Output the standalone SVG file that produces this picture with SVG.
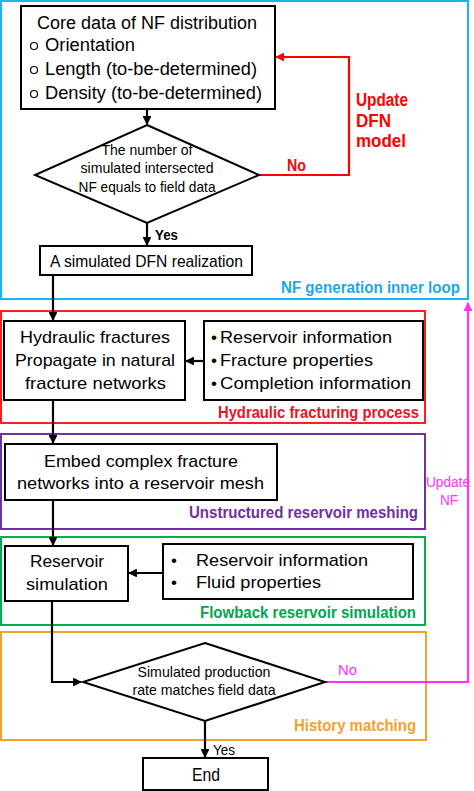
<svg xmlns="http://www.w3.org/2000/svg" width="474" height="791" viewBox="0 0 474 791">
<defs>
<marker id="ah" viewBox="0 0 10 10" refX="9" refY="5" markerWidth="4" markerHeight="4" orient="auto" markerUnits="strokeWidth"><path d="M0,0 L10,5 L0,10 z" fill="#000"/></marker>
<marker id="ahr" viewBox="0 0 10 10" refX="9" refY="5" markerWidth="4" markerHeight="4" orient="auto" markerUnits="strokeWidth"><path d="M0,0 L10,5 L0,10 z" fill="#FF0000"/></marker>
<marker id="ahm" viewBox="0 0 10 10" refX="9" refY="5" markerWidth="4" markerHeight="4" orient="auto" markerUnits="strokeWidth"><path d="M0,0 L10,5 L0,10 z" fill="#FF33FF"/></marker>
</defs>
<style>
text{font-family:"Liberation Sans",Arial,sans-serif;fill:#000;}
.box{fill:#fff;stroke:#000;stroke-width:2;}
.grp{fill:none;stroke-width:2;}
.t{font-size:17px;}
.s{font-size:15px;}
.lab{font-size:16px;font-weight:bold;}
.c{stroke:#000;stroke-width:2.2;fill:none;}
</style>
<rect width="474" height="791" fill="#fff"/>

<g id="group-frames">
<rect id="nf-loop" class="grp" x="1" y="1" width="467" height="298" stroke="#1CB4EC"/>
<rect id="hf-process" class="grp" x="1" y="311" width="424" height="112" stroke="#FF1E1E"/>
<rect id="meshing" class="grp" x="1" y="434" width="424" height="95" stroke="#7030A0"/>
<rect id="flowback" class="grp" x="1" y="537" width="424" height="88" stroke="#00B050"/>
<rect id="history" class="grp" x="1" y="632" width="425" height="108" stroke="#F5A030"/>
<text x="460" y="293" text-anchor="end" class="lab" style="fill:#1CA8E4" textLength="179" lengthAdjust="spacingAndGlyphs">NF generation inner loop</text>
<text x="419" y="418" text-anchor="end" class="lab" style="fill:#E8141C" textLength="201" lengthAdjust="spacingAndGlyphs">Hydraulic fracturing process</text>
<text x="418" y="518" text-anchor="end" class="lab" style="fill:#7030A0" textLength="229" lengthAdjust="spacingAndGlyphs">Unstructured reservoir meshing</text>
<text x="416" y="618" text-anchor="end" class="lab" style="fill:#00A550" textLength="216" lengthAdjust="spacingAndGlyphs">Flowback reservoir simulation</text>
<text x="416" y="731" text-anchor="end" class="lab" style="fill:#F5A030" textLength="122" lengthAdjust="spacingAndGlyphs">History matching</text>
</g>

<g id="connectors">
<line class="c" x1="147" y1="109" x2="147" y2="124" marker-end="url(#ah)"/>
<line class="c" x1="147" y1="223" x2="147" y2="245" marker-end="url(#ah)"/>
<line class="c" x1="53" y1="275" x2="53" y2="320" marker-end="url(#ah)"/>
<line class="c" x1="53" y1="400" x2="53" y2="443" marker-end="url(#ah)"/>
<line class="c" x1="53" y1="500" x2="53" y2="545" marker-end="url(#ah)"/>
<polyline class="c" points="52,601 52,682 81,682" marker-end="url(#ah)"/>
<line class="c" x1="204" y1="361" x2="186" y2="361" marker-end="url(#ah)"/>
<line class="c" x1="163" y1="573" x2="129" y2="573" marker-end="url(#ah)"/>
<line class="c" x1="205" y1="721" x2="205" y2="757" marker-end="url(#ah)"/>
<polyline points="259,175 349,175 349,57 276,57" fill="none" stroke="#FF0000" stroke-width="2.2" marker-end="url(#ahr)"/>
<polyline points="325,682 468,682 468,303" fill="none" stroke="#FF33FF" stroke-width="2.2" marker-end="url(#ahm)"/>
<text x="287" y="171" style="fill:#FF0000;font-size:17px;font-weight:bold" textLength="19" lengthAdjust="spacingAndGlyphs">No</text>
<text x="356" y="106" style="fill:#FF0000;font-size:18px;font-weight:bold" textLength="52" lengthAdjust="spacingAndGlyphs">Update</text>
<text x="356" y="127" style="fill:#FF0000;font-size:18px;font-weight:bold" textLength="35" lengthAdjust="spacingAndGlyphs">DFN</text>
<text x="356" y="147" style="fill:#FF0000;font-size:18px;font-weight:bold" textLength="50" lengthAdjust="spacingAndGlyphs">model</text>
<text x="155" y="240" style="font-size:15px;font-weight:bold" textLength="23" lengthAdjust="spacingAndGlyphs">Yes</text>
<text x="426" y="487" style="fill:#FF33FF;font-size:14px" textLength="44" lengthAdjust="spacingAndGlyphs">Update</text>
<text x="440" y="505" style="fill:#FF33FF;font-size:14px" textLength="18" lengthAdjust="spacingAndGlyphs">NF</text>
<text x="338" y="675" style="fill:#FF33FF;font-size:15px" textLength="19" lengthAdjust="spacingAndGlyphs">No</text>
<text x="213" y="755" style="font-size:15px" textLength="22" lengthAdjust="spacingAndGlyphs">Yes</text>
</g>

<g id="core-data">
<rect class="box" x="21" y="6" width="254" height="103"/>
<text x="37" y="29" class="t" style="font-size:18px" textLength="220" lengthAdjust="spacingAndGlyphs">Core data of NF distribution</text>
<circle cx="34" cy="46" r="3.5" fill="none" stroke="#000" stroke-width="1.2"/>
<circle cx="34" cy="70" r="3.5" fill="none" stroke="#000" stroke-width="1.2"/>
<circle cx="34" cy="94" r="3.5" fill="none" stroke="#000" stroke-width="1.2"/>
<text x="45" y="51" class="t" style="font-size:18px" textLength="90" lengthAdjust="spacingAndGlyphs">Orientation</text>
<text x="45" y="75" class="t" style="font-size:18px" textLength="212" lengthAdjust="spacingAndGlyphs">Length (to-be-determined)</text>
<text x="45" y="99" class="t" style="font-size:18px" textLength="217" lengthAdjust="spacingAndGlyphs">Density (to-be-determined)</text>
</g>

<g id="nf-check">
<polygon class="box" points="147,125 259,175 147,223 35,175"/>
<text x="147" y="155" class="s" text-anchor="middle" textLength="91" lengthAdjust="spacingAndGlyphs">The number of</text>
<text x="147" y="173" class="s" text-anchor="middle" textLength="133" lengthAdjust="spacingAndGlyphs">simulated intersected</text>
<text x="147" y="192" class="s" text-anchor="middle" textLength="137" lengthAdjust="spacingAndGlyphs">NF equals to field data</text>
</g>

<g id="dfn-realization">
<rect class="box" x="40" y="246" width="212" height="29"/>
<text x="50" y="267" class="t" textLength="193" lengthAdjust="spacingAndGlyphs">A simulated DFN realization</text>
</g>

<g id="hydraulic-fractures">
<rect class="box" x="4" y="321" width="181" height="79"/>
<text x="20" y="343" class="t" textLength="150" lengthAdjust="spacingAndGlyphs">Hydraulic fractures</text>
<text x="15" y="366" class="t" textLength="160" lengthAdjust="spacingAndGlyphs">Propagate in natural</text>
<text x="25" y="389" class="t" textLength="141" lengthAdjust="spacingAndGlyphs">fracture networks</text>
</g>

<g id="hf-inputs">
<rect class="box" x="204" y="321" width="219" height="79"/>
<text x="211" y="343" class="t">•</text>
<text x="211" y="366" class="t">•</text>
<text x="211" y="389" class="t">•</text>
<text x="220" y="343" class="t" textLength="172" lengthAdjust="spacingAndGlyphs">Reservoir information</text>
<text x="220" y="366" class="t" textLength="153" lengthAdjust="spacingAndGlyphs">Fracture properties</text>
<text x="220" y="389" class="t" textLength="191" lengthAdjust="spacingAndGlyphs">Completion information</text>
</g>

<g id="embed-mesh">
<rect class="box" x="5" y="444" width="272" height="56"/>
<text x="44" y="467" class="t" textLength="194" lengthAdjust="spacingAndGlyphs">Embed complex fracture</text>
<text x="17" y="489" class="t" textLength="247" lengthAdjust="spacingAndGlyphs">networks into a reservoir mesh</text>
</g>

<g id="reservoir-simulation">
<rect class="box" x="5" y="546" width="123" height="55"/>
<text x="30" y="567" class="t" textLength="74" lengthAdjust="spacingAndGlyphs">Reservoir</text>
<text x="26" y="590" class="t" textLength="82" lengthAdjust="spacingAndGlyphs">simulation</text>
</g>

<g id="sim-inputs">
<rect class="box" x="163" y="544" width="250" height="55"/>
<text x="171" y="566" class="t">•</text>
<text x="171" y="588" class="t">•</text>
<text x="196" y="566" class="t" textLength="172" lengthAdjust="spacingAndGlyphs">Reservoir information</text>
<text x="196" y="588" class="t" textLength="125" lengthAdjust="spacingAndGlyphs">Fluid properties</text>
</g>

<g id="match-check">
<polygon class="box" points="205,643 325,682 205,721 83,682"/>
<text x="204" y="677" class="s" text-anchor="middle" textLength="133" lengthAdjust="spacingAndGlyphs">Simulated production</text>
<text x="204" y="695" class="s" text-anchor="middle" textLength="143" lengthAdjust="spacingAndGlyphs">rate matches field data</text>
</g>

<g id="end">
<rect class="box" x="143" y="758" width="125" height="32"/>
<text x="206" y="781" class="t" style="font-size:18px" text-anchor="middle" textLength="28" lengthAdjust="spacingAndGlyphs">End</text>
</g>
</svg>
